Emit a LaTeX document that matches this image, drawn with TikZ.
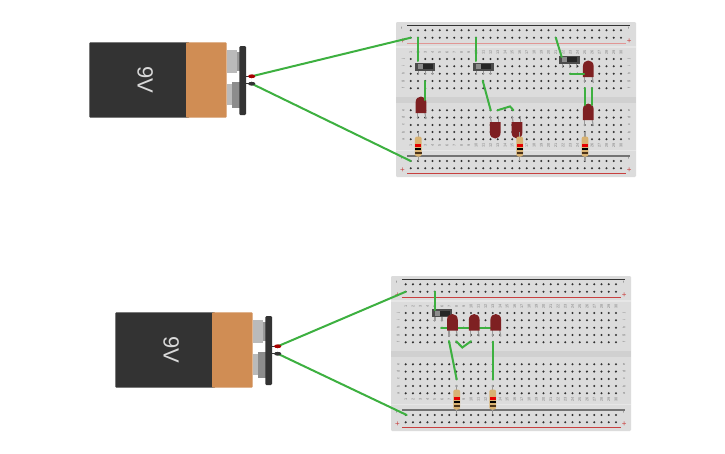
\documentclass[tikz,border=0pt]{standalone}
\usepackage{fontspec}
\setmainfont{Liberation Sans}
\usetikzlibrary{shapes.geometric}
\definecolor{boardbg}{HTML}{DCDCDC}
\definecolor{boardgap}{HTML}{D0D0D0}
\definecolor{boardsep}{HTML}{E6E6E6}
\definecolor{holec}{HTML}{303030}
\definecolor{wirec}{HTML}{3DB040}
\definecolor{ledc}{HTML}{7E2022}
\definecolor{legc}{HTML}{9A9A9A}
\definecolor{tanc}{HTML}{D8B272}
\definecolor{battdark}{HTML}{333333}
\definecolor{battorange}{HTML}{D08D54}
\definecolor{railred}{HTML}{C8403F}
\definecolor{labelc}{HTML}{7A7A7A}
\tikzset{
  wire/.style={draw=wirec,line width=2pt,line cap=round},
  leg/.style={draw=legc,line width=1.1pt},
  boardlabel/.style={text=labelc,font=\fontsize{3.8}{4}\selectfont,inner sep=0pt,rotate=90},
  raillabel/.style={font=\fontsize{8}{8}\selectfont,inner sep=0pt},
  pics/breadboard/.style n args={2}{code={
    % origin is the board's top-left corner; 240 x 155
    \fill[boardbg,rounded corners=1.2pt] (0,0) rectangle (240,155);
    \fill[boardsep] (0,24.2) rectangle (240,26);
    \fill[boardsep] (0,127.6) rectangle (240,129.2);
    \fill[boardgap] (0,74.5) rectangle (240,81);
    \draw[draw=#1,line width=1pt] (11,3.4) -- (234,3.4);
    \draw[draw=#2,line width=1pt] (11,21) -- (230,21);
    \draw[draw=black!55,line width=1.2pt] (11,134) -- (234,134);
    \draw[draw=railred,line width=1pt] (11,151.4) -- (230,151.4);
    \foreach \c in {0,...,29}{
      \pgfmathsetmacro{\xx}{14.7+7.25*\c}
      \pgfmathtruncatemacro{\nn}{\c+1}
      \foreach \yy in {8.3,15.7,37,44.3,51.7,59,66.3,88.3,95.6,103,110,117.3,139,146.3}
        \fill[holec] (\xx,\yy) circle (1.15pt);
      \node[boardlabel] at (\xx,30.7) {\nn};
      \node[boardlabel] at (\xx,123.3) {\nn};
    }
    \foreach \yy/\t in {37/j,44.3/i,51.7/h,59/g,66.3/f,88.3/e,95.6/d,103/c,110/b,117.3/a}{
      \node[boardlabel] at (7.3,\yy) {\t};
      \node[boardlabel] at (233,\yy) {\t};
    }
    \foreach \xx in {6.5,233.3}{
      \node[raillabel,text=labelc,rotate=90] at (\xx,5.8) {-};
      \node[raillabel,text=railred] at (\xx,19) {+};
      \node[raillabel,text=labelc,rotate=90] at (\xx,136) {-};
      \node[raillabel,text=railred] at (\xx,148.5) {+};
    }
  }},
  pics/battery/.style={code={
    % origin is the top-left corner of the battery's body
    \fill[battdark,rounded corners=1pt] (0,0) rectangle (100,75.4);
    \fill[battorange,rounded corners=1pt] (96.7,0) rectangle (137.4,75.4);
    \node[text=white!85!black,font=\fontsize{22}{22}\selectfont,rotate=-90,inner sep=0pt] at (56,37.7) {9V};
    \fill[white!73!black] (138,7.7) rectangle (147.4,31);
    \fill[white!60!black] (147.4,10) rectangle (150.5,29);
    \fill[white!73!black] (138,41.7) rectangle (143,63);
    \fill[white!55!black] (142.4,40) rectangle (150.5,65.4);
    \draw[draw=battdark,line width=0.8pt] (156,34) -- (162,34);
    \draw[draw=battdark,line width=0.8pt] (156,41.4) -- (162,41.4);
    \fill[battdark,rounded corners=1.2pt] (150,3.7) rectangle (156.7,72.7);
  }},
  pics/switchpart/.style={code={
    % origin is the centre of the body
    \foreach \p in {-7,0,7} \draw[leg] (\p,3) -- (\p,8);
    \fill[white!30!black] (-10.2,-4) rectangle (10.2,4);
    \fill[black!85] (-2.5,-2.6) rectangle (7.5,2.6);
    \fill[white!55!black] (-7.5,-2.6) rectangle (-2.5,2.6);
  }},
  pics/ledpart/.style={code={
    % origin is the centre of the lens; the dome points away from the legs
    \draw[leg] (-3.4,6) -- (-3.4,14);
    \draw[leg] (3.6,6) -- (5,14);
    \fill[ledc] (-5.4,8) -- (-5.4,-2.5) .. controls (-5.4,-10.5) and (5.4,-10.5) .. (5.4,-2.5) -- (5.4,8) -- cycle;
  }},
  pics/resistorpart/.style={code={
    % origin is the centre of the body
    \draw[draw=legc,line width=1.1pt] (0,-14.5) -- (0,14.5);
    \fill[tanc,rounded corners=2.2pt] (-3.4,-10) rectangle (3.4,10);
    \fill[red!90!black] (-2.9,-2.4) rectangle (2.9,0);
    \fill[black] (-2.9,1) rectangle (2.9,3.2);
    \fill[black!60!brown] (-3.2,5.2) rectangle (3.2,7.8);
  }},
  pinred/.style={ellipse,fill=red!65!black,minimum width=7pt,minimum height=3.6pt,inner sep=0pt},
  pinblack/.style={ellipse,fill=battdark,minimum width=7pt,minimum height=3.6pt,inner sep=0pt}
}
\begin{document}
\begin{tikzpicture}[x=1pt,y=-1pt]
\useasboundingbox (0,0) rectangle (725,453);
\fill[white] (0,0) rectangle (725,453);

% ---------- upper circuit ----------
\pic at (396,22) {breadboard={black!80}{railred!55!white}};
\pic at (89.3,42.3) {battery};
\pic at (425.2,66.7) {switchpart};
\pic at (483.4,66.7) {switchpart};
\pic at (569.5,59.5) {switchpart};
\pic at (421,105) {ledpart};
\pic at (588.3,69) {ledpart};
\pic at (588.3,112) {ledpart};
\pic[rotate=180] at (495.2,130) {ledpart};
\pic[rotate=180] at (517,130) {ledpart};
\pic at (418.3,146.5) {resistorpart};
\pic at (519.7,146.5) {resistorpart};
\pic at (585,146.5) {resistorpart};

\node[pinred] (uplus) at (251.7,76.3) {};
\node[pinblack] (uminus) at (251.7,83.7) {};
\coordinate (urailp) at (410.7,37.7);
\coordinate (urailm) at (410.7,161);
\coordinate (ua1) at (418,37.7);   \coordinate (ua2) at (418,61);
\coordinate (ub1) at (476,37.7);   \coordinate (ub2) at (476,61);
\coordinate (uc1) at (555.8,37.7); \coordinate (uc2) at (561.7,57);
\coordinate (ud1) at (425,81);     \coordinate (ud2) at (425,100);
\coordinate (ue1) at (482.7,80.7); \coordinate (ue2) at (490.7,110.3);
\coordinate (uf1) at (497.5,110.3);\coordinate (uf2) at (510,106.4); \coordinate (uf3) at (513.5,110.3);
\coordinate (ug1) at (570,73.7);   \coordinate (ug2) at (584,73.7);
\coordinate (uh1) at (585,88);     \coordinate (uh2) at (585,105);
\coordinate (ui1) at (592.3,88);   \coordinate (ui2) at (592.3,105);

\draw[wire] (uplus.center) -- (urailp);
\draw[wire] (uminus.center) -- (urailm);
\draw[wire] (ua1) -- (ua2);
\draw[wire] (ub1) -- (ub2);
\draw[wire] (uc1) -- (uc2);
\draw[wire] (ud1) -- (ud2);
\draw[wire] (ue1) -- (ue2);
\draw[wire] (uf1) -- (uf2) -- (uf3);
\draw[wire] (ug1) -- (ug2);
\draw[wire] (uh1) -- (uh2);
\draw[wire] (ui1) -- (ui2);
\node[pinred] at (uplus) {};
\node[pinblack] at (uminus) {};

% ---------- lower circuit ----------
\pic at (391,276) {breadboard={black!80}{railred}};
\pic at (115.3,312.3) {battery};
\pic at (442,313.3) {switchpart};

\coordinate (lrow1) at (441,327.7); \coordinate (lrow2) at (491,327.7);
\draw[wire] (lrow1) -- (lrow2);

\pic at (452.4,322.5) {ledpart};
\pic at (474.2,322.5) {ledpart};
\pic at (495.8,322.5) {ledpart};
\pic at (456.7,399.5) {resistorpart};
\pic at (492.7,399.5) {resistorpart};

\node[pinred] (lplus) at (277.7,346.3) {};
\node[pinblack] (lminus) at (277.7,353.7) {};
\coordinate (lrailp) at (405.7,291.7);
\coordinate (lrailm) at (406.7,415);
\coordinate (la1) at (434.8,291.7); \coordinate (la2) at (434.8,310);
\coordinate (lb1) at (449,341);     \coordinate (lb2) at (456.7,379.5);
\coordinate (lc1) at (456.2,341.2); \coordinate (lc2) at (462.3,347.5); \coordinate (lc3) at (471,341.2);
\coordinate (ld1) at (492.7,341.5); \coordinate (ld2) at (492.7,379.5);

\draw[wire] (lplus.center) -- (lrailp);
\draw[wire] (lminus.center) -- (lrailm);
\draw[wire] (la1) -- (la2);
\draw[wire] (lb1) -- (lb2);
\draw[wire] (lc1) -- (lc2) -- (lc3);
\draw[wire] (ld1) -- (ld2);
\node[pinred] at (lplus) {};
\node[pinblack] at (lminus) {};
\end{tikzpicture}
\end{document}
